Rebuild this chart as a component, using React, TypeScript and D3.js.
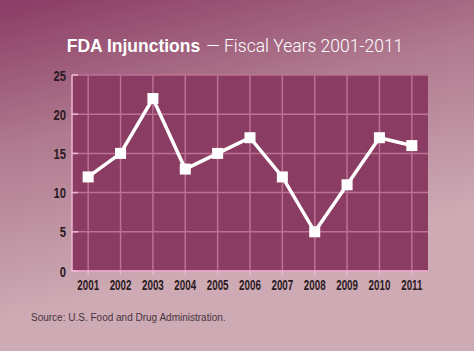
import React from "react";
import * as d3 from "d3";

const years = ["2001","2002","2003","2004","2005","2006","2007","2008","2009","2010","2011"];
const injunctions = [12, 15, 22, 13, 15, 17, 12, 5, 11, 17, 16];
const yTicks = [0, 5, 10, 15, 20, 25];

const W = 474, H = 351;
const plot = { left: 72, right: 428, top: 75, bottom: 271 };

export default function App() {
  const x = d3.scalePoint<string>().domain(years).range([plot.left, plot.right]).padding(0.5);
  const y = d3.scaleLinear().domain([0, 25]).range([plot.bottom, plot.top]);
  const line = d3.line<number>().x((_, i) => x(years[i])!).y((d) => y(d));
  const font = "'Liberation Sans', Arial, sans-serif";
  return (
    <svg width={W} height={H} style={{ position: "absolute", left: 0, top: 0, display: "block" }}>
      <defs>
        <linearGradient id="bg" x1="0.1" y1="0" x2="0.35" y2="0.8">
          <stop offset="0" stopColor="#8d3f67" />
          <stop offset="0.45" stopColor="#b07a8f" />
          <stop offset="1" stopColor="#cdaab4" />
        </linearGradient>
      </defs>
      <rect x={0} y={0} width={W} height={H} fill="url(#bg)" />
      <text x={235} y={52} textAnchor="middle" fill="#ffffff" fontSize={17.5}>
        <tspan fontWeight="bold" fontFamily={font}>FDA Injunctions</tspan>
        <tspan fontWeight={300} fontFamily="Roboto, 'Liberation Sans', sans-serif" dx={6}>—  Fiscal Years 2001-2011</tspan>
      </text>
      <rect x={plot.left} y={plot.top} width={plot.right - plot.left} height={plot.bottom - plot.top} fill="#8b3c62" />
      {yTicks.map((t) => (
        <line key={"gy" + t} x1={plot.left} x2={plot.right} y1={y(t)} y2={y(t)} stroke="#bb7295" strokeWidth={1.5} />
      ))}
      {years.map((yr) => (
        <line key={"gx" + yr} x1={x(yr)} x2={x(yr)} y1={plot.top} y2={plot.bottom} stroke="#bb7295" strokeWidth={1.5} />
      ))}
      <line x1={plot.left} x2={plot.left} y1={plot.top} y2={plot.bottom + 1} stroke="#efb6d0" strokeWidth={1.5} />
      <line x1={plot.left} x2={plot.right} y1={plot.bottom} y2={plot.bottom} stroke="#efb6d0" strokeWidth={1.5} />
      {yTicks.map((t) => (
        <line key={"ty" + t} x1={plot.left} x2={plot.left + 6} y1={y(t)} y2={y(t)} stroke="#efb6d0" strokeWidth={1.5} />
      ))}
      {years.map((yr) => (
        <line key={"tx" + yr} x1={x(yr)} x2={x(yr)} y1={plot.bottom} y2={plot.bottom + 4} stroke="#efb6d0" strokeWidth={1.5} />
      ))}
      {yTicks.map((t) => (
        <text key={"ly" + t} transform={`translate(66,${y(t) + 5.5}) scale(0.75,1)`} textAnchor="end" fill="#2b1a22" fontFamily={font} fontWeight="bold" fontSize={15}>
          {t}
        </text>
      ))}
      {years.map((yr) => (
        <text key={"lx" + yr} transform={`translate(${x(yr)},289.5) scale(0.7,1)`} textAnchor="middle" fill="#2b1a22" fontFamily={font} fontWeight="bold" fontSize={14}>
          {yr}
        </text>
      ))}
      <path d={line(injunctions) || ""} fill="none" stroke="#ffffff" strokeWidth={3.5} strokeLinejoin="miter" />
      {injunctions.map((v, i) => (
        <rect key={"m" + i} x={x(years[i])! - 5.5} y={y(v) - 5.5} width={11} height={11} fill="#ffffff" />
      ))}
      <text x={31} y={321} fill="#4a3440" fontFamily={font} fontSize={10}>
        Source: U.S. Food and Drug Administration.
      </text>
    </svg>
  );
}
